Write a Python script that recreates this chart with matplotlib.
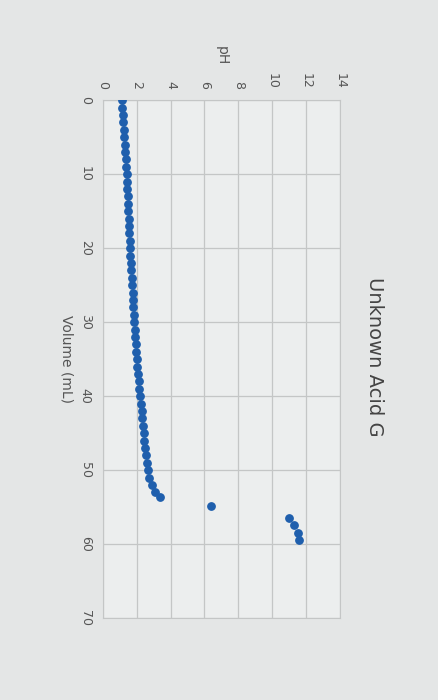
import numpy as np
import matplotlib.pyplot as plt

# titration data (chart photographed rotated 90 deg clockwise)
volume = list(range(0, 54)) + [53.7, 54.8, 56.5, 57.4, 58.5, 59.5]
ph = [1.10, 1.13, 1.16, 1.19, 1.22, 1.25, 1.28, 1.31, 1.34, 1.37,
      1.40, 1.42, 1.44, 1.46, 1.48, 1.50, 1.52, 1.54, 1.56, 1.58,
      1.60, 1.62, 1.65, 1.67, 1.70, 1.72, 1.75, 1.77, 1.80, 1.82,
      1.85, 1.88, 1.91, 1.94, 1.97, 2.00, 2.04, 2.08, 2.12, 2.16,
      2.20, 2.24, 2.28, 2.32, 2.36, 2.40, 2.45, 2.50, 2.55, 2.60,
      2.65, 2.75, 2.90, 3.10, 3.40, 6.40, 11.0, 11.3, 11.5, 11.6]

vol_ticks = [0, 10, 20, 30, 40, 50, 60, 70]
ph_ticks = [0, 2, 4, 6, 8, 10, 12, 14]

fig = plt.figure(figsize=(4.38, 7.0), dpi=100)
fig.patch.set_facecolor("#e4e6e6")
ax = fig.add_axes([0.235, 0.117, 0.541, 0.74])
ax.set_facecolor("#eceeee")

ax.scatter(ph, volume, s=28, color="#1f5fad", zorder=3)

ax.set_xlim(0, 14)
ax.set_ylim(70, 0)
ax.set_xticks(ph_ticks)
ax.set_yticks(vol_ticks)
ax.xaxis.tick_top()
ax.xaxis.set_label_position("top")
ax.set_xticklabels([str(t) for t in ph_ticks], rotation=-90, color="#555", fontsize=9)
ax.set_yticklabels([str(t) for t in vol_ticks], rotation=-90, color="#555", fontsize=9,
                   va="center")
ax.tick_params(length=0, pad=8)
ax.set_xlabel("pH", rotation=-90, color="#555", fontsize=10, labelpad=8)
ax.set_ylabel("Volume (mL)", rotation=-90, color="#555", fontsize=10, labelpad=14)
ax.grid(True, color="#c4c6c6", linewidth=0.9)
for s in ax.spines.values():
    s.set_color("#c4c6c6")

fig.text(0.855, 0.49, "Unknown Acid G", rotation=-90, fontsize=14, color="#444",
         ha="center", va="center")

fig.savefig("out.png", dpi=100, facecolor=fig.get_facecolor())
